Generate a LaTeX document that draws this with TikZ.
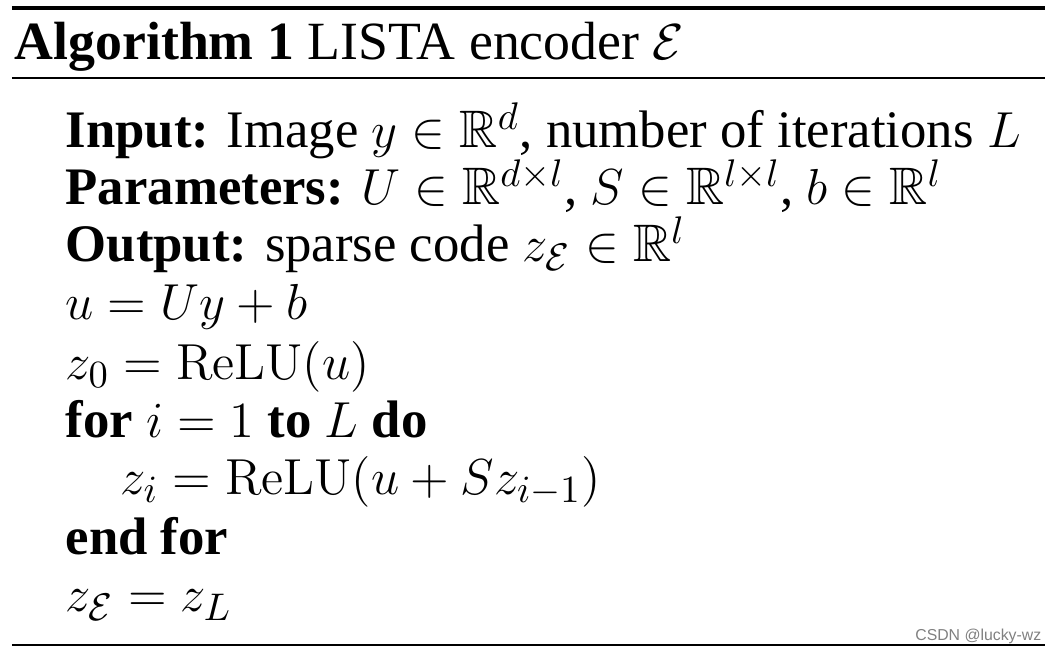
\documentclass[tikz,border=0pt]{standalone}
\usepackage{amssymb}
\usepackage[no-math]{fontspec}
\setmainfont{Liberation Serif}
\setsansfont{Liberation Sans}
\begin{document}
\begin{tikzpicture}[x=0.01cm,y=-0.01cm,
  ln/.style={anchor=base west,inner sep=0pt,font=\fontsize{15}{17}\selectfont},
  rl/.style={line width=#1}]
\useasboundingbox (0,0) rectangle (1056,655);
\draw[rl=1.2pt] (12,8) -- (1045,8);
\draw[rl=0.6pt] (12,78) -- (1045,78);
\draw[rl=0.6pt] (12,645) -- (1045,645);
\node[ln,font=\fontsize{15.3}{18}\selectfont] (t) at (14,60) {\textbf{Algorithm 1} LISTA encoder $\mathcal{E}$};
\node[ln] (l1) at (65,148) {\textbf{Input:} Image $y\in\mathbb{R}^d$, number of iterations $L$};
\node[ln] (l2) at (65,205) {\textbf{Parameters:} $U\in\mathbb{R}^{d\times l}$, $S\in\mathbb{R}^{l\times l}$, $b\in\mathbb{R}^l$};
\node[ln] (l3) at (65,262) {\textbf{Output:} sparse code $z_{\mathcal{E}}\in\mathbb{R}^l$};
\node[ln] (l4) at (65,320) {$u=Uy+b$};
\node[ln] (l5) at (65,380) {$z_0=\mathrm{ReLU}(u)$};
\node[ln] (l6) at (65,438) {\textbf{for} $i=1$ \textbf{to} $L$ \textbf{do}};
\node[ln] (l7) at (120,495) {$z_i=\mathrm{ReLU}(u+Sz_{i-1})$};
\node[ln] (l8) at (65,555) {\textbf{end for}};
\node[ln] (l9) at (65,612) {$z_{\mathcal{E}}=z_L$};
\node[anchor=base east,inner sep=0pt,font=\sffamily\fontsize{4.5}{5}\selectfont,text=gray] (w) at (1042,641) {CSDN @lucky-wz};
\end{tikzpicture}
\end{document}
